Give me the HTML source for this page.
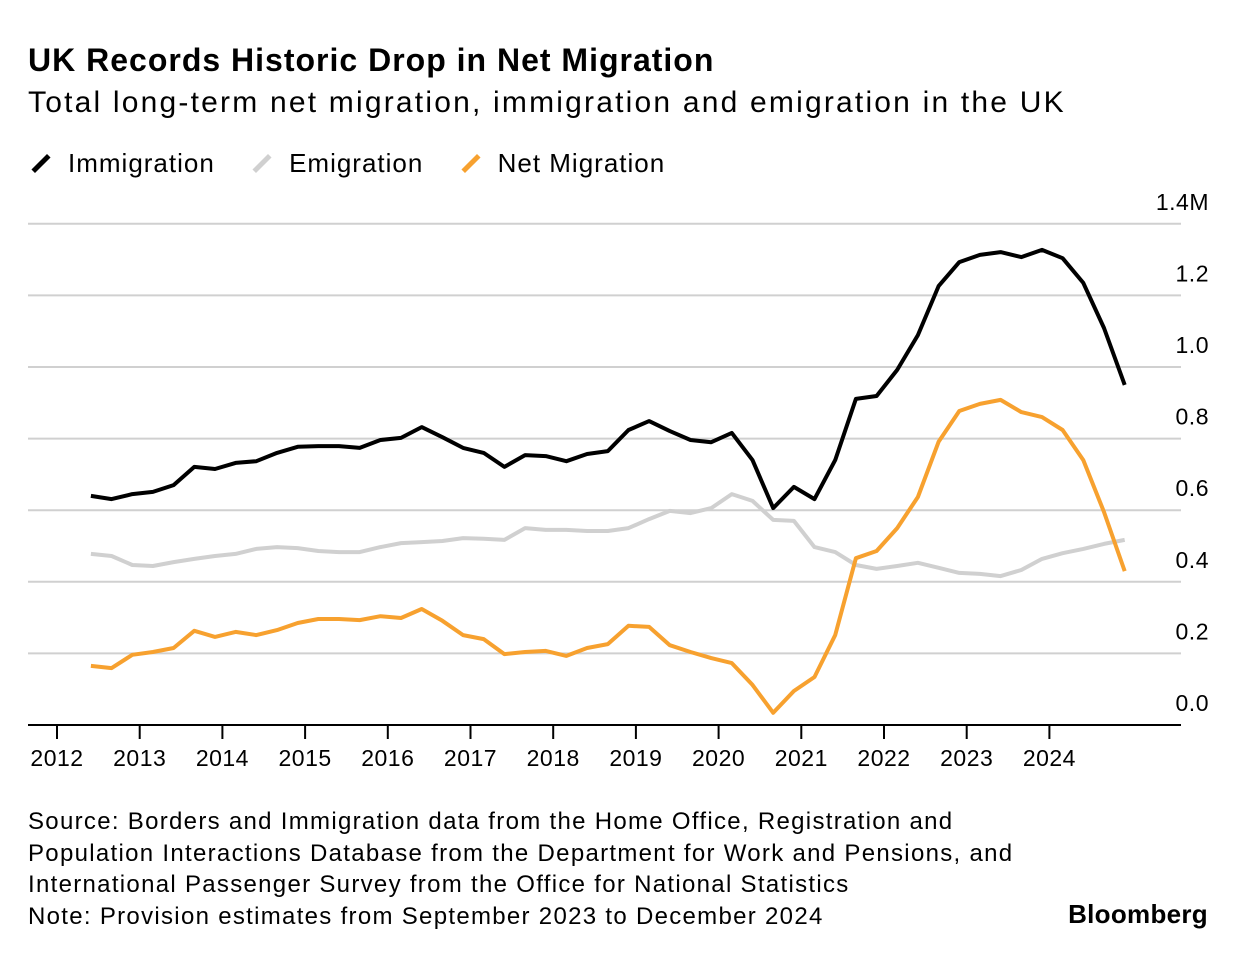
<!DOCTYPE html>
<html><head><meta charset="utf-8"><style>
body{margin:0;background:#fff;font-family:"Liberation Sans",sans-serif;color:#000}
#wrap{position:relative;width:1237px;height:958px;overflow:hidden}
.t{position:absolute;white-space:nowrap}
</style></head><body>
<div id="wrap">
<div class="t" style="left:28px;top:42px;font-size:32px;font-weight:bold;letter-spacing:1px">UK Records Historic Drop in Net Migration</div>
<div class="t" style="left:28px;top:86px;font-size:30px;letter-spacing:2.2px">Total long-term net migration, immigration and emigration in the UK</div>
<div class="t" style="left:28px;top:148px;font-size:26px;letter-spacing:1px">
<span><span style="display:inline-block;width:22px;height:5px;background:#000;transform:rotate(-45deg);vertical-align:middle;margin:0 16px 4px 2px"></span>Immigration</span>
<span style="margin-left:26px"><span style="display:inline-block;width:22px;height:5px;background:#d0d0d0;transform:rotate(-45deg);vertical-align:middle;margin:0 16px 4px 2px"></span>Emigration</span>
<span style="margin-left:26px"><span style="display:inline-block;width:22px;height:5px;background:#f7a12f;transform:rotate(-45deg);vertical-align:middle;margin:0 16px 4px 2px"></span>Net Migration</span>
</div>
<svg id="chart" width="1237" height="958" style="position:absolute;left:0;top:0"></svg>
<div class="t" style="left:28px;top:806px;font-size:24px;line-height:31.7px;letter-spacing:1.3px">Source: Borders and Immigration data from the Home Office, Registration and<br>Population Interactions Database from the Department for Work and Pensions, and<br>International Passenger Survey from the Office for National Statistics<br>Note: Provision estimates from September 2023 to December 2024</div>
<div class="t" style="right:29px;top:899px;font-size:26px;font-weight:bold;letter-spacing:0.3px">Bloomberg</div>
</div>
<script>
const yTicks=[0,0.2,0.4,0.6,0.8,1.0,1.2,1.4];
const yTickLabels=["0.0","0.2","0.4","0.6","0.8","1.0","1.2","1.4M"];
const xYears=[2012,2013,2014,2015,2016,2017,2018,2019,2020,2021,2022,2023,2024];
const startYear=2012.41;
const immigration=[0.640,0.631,0.645,0.651,0.670,0.721,0.715,0.732,0.737,0.760,0.777,0.779,0.779,0.774,0.796,0.802,0.832,0.804,0.774,0.760,0.721,0.754,0.751,0.737,0.757,0.765,0.824,0.849,0.821,0.796,0.790,0.816,0.740,0.606,0.665,0.631,0.740,0.911,0.919,0.992,1.089,1.226,1.293,1.313,1.321,1.307,1.327,1.304,1.235,1.109,0.950];
const emigration=[0.478,0.472,0.447,0.444,0.455,0.464,0.472,0.478,0.492,0.497,0.494,0.486,0.483,0.483,0.497,0.508,0.511,0.514,0.522,0.520,0.517,0.550,0.545,0.545,0.542,0.542,0.550,0.575,0.598,0.592,0.606,0.645,0.626,0.573,0.570,0.497,0.483,0.447,0.436,0.444,0.453,0.439,0.425,0.422,0.416,0.433,0.464,0.480,0.492,0.506,0.517];
const netMigration=[0.165,0.159,0.196,0.204,0.215,0.263,0.246,0.260,0.251,0.265,0.285,0.296,0.296,0.293,0.304,0.299,0.324,0.291,0.251,0.240,0.198,0.204,0.207,0.193,0.215,0.226,0.277,0.274,0.223,0.204,0.187,0.173,0.112,0.034,0.095,0.134,0.251,0.466,0.486,0.550,0.637,0.791,0.877,0.897,0.908,0.874,0.860,0.824,0.740,0.595,0.430];

const NS='http://www.w3.org/2000/svg';
const svg=document.getElementById('chart');
const y=v=>725-v*358;
const x=yr=>57+(yr-2012)*82.7;
function mk(tag,attrs){const e=document.createElementNS(NS,tag);for(const k in attrs)e.setAttribute(k,attrs[k]);svg.appendChild(e);return e;}
yTicks.forEach((v,i)=>{
  if(v>0){const g=mk('line',{x1:28,x2:1181,y1:y(v),y2:y(v),stroke:'#d0d0d0','stroke-width':2});
  
  }
  const t=mk('text',{x:1209,y:y(v)-14,'text-anchor':'end','font-size':23,'letter-spacing':0.5,'font-family':'Liberation Sans, sans-serif',fill:'#000'});
  t.textContent=yTickLabels[i];
  
  
});
const ax=mk('line',{x1:28,x2:1181,y1:725,y2:725,stroke:'#000','stroke-width':2});


xYears.forEach(yr=>{
  const tk=mk('line',{x1:x(yr),x2:x(yr),y1:725,y2:739,stroke:'#000','stroke-width':2});
  
  
  const t=mk('text',{x:x(yr),y:766,'text-anchor':'middle','font-size':23,'letter-spacing':0.5,'font-family':'Liberation Sans, sans-serif',fill:'#000'});
  t.textContent=yr;
  
  
});
function line(arr,color,name){
  const d=arr.map((v,i)=>(i?'L':'M')+x(startYear+i*0.25).toFixed(1)+','+y(v).toFixed(1)).join('');
  const p=mk('path',{d:d,fill:'none',stroke:color,'stroke-width':4,'stroke-linejoin':'round'});
  
  
}
line(emigration,'#d0d0d0','emigration-line');
line(immigration,'#000','immigration-line');
line(netMigration,'#f7a12f','net-migration-line');
</script>
</body></html>
